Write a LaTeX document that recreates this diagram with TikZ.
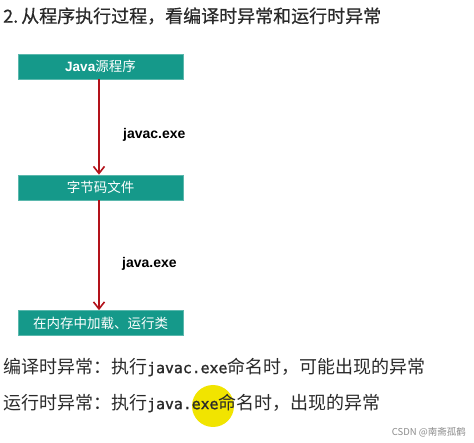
\documentclass[tikz,border=0pt]{standalone}
\usepackage{fontspec}
\setmainfont{Liberation Sans}
\newfontfamily\cjk{Noto Sans CJK SC}
\newfontfamily\cjkb{Noto Sans CJK SC}[FakeBold=0.6]
\newfontfamily\monob{DejaVu Sans Mono}[FakeBold=1.4]
\usetikzlibrary{arrows.meta}
\definecolor{teal1}{HTML}{15998A}
\definecolor{arrowred}{HTML}{B3121A}
\definecolor{txt}{HTML}{2A2A2A}
\definecolor{hl}{HTML}{F1E400}
\tikzset{
  stepbox/.style={fill=teal1, draw=teal1!70!white, line width=0.6pt, minimum width=165pt, minimum height=25pt, inner sep=0pt, text=white, font=\fontsize{13.5}{15}\selectfont\cjk},
  flow/.style={draw=arrowred, line width=2pt, -{Straight Barb[length=7pt,width=11pt,line width=1.6pt]}},
  cmdlabel/.style={font=\fontsize{14}{16}\selectfont\bfseries, text=black, anchor=west, inner sep=0pt},
  linetext/.style={anchor=west, inner sep=0pt, text=txt, font=\fontsize{18}{20}\selectfont\cjk}
}
\begin{document}
\begin{tikzpicture}[x=1pt,y=-1pt]
\useasboundingbox[fill=white] (0,0) rectangle (474,443);
\node[anchor=west, inner sep=0pt, text=txt, font=\fontsize{18}{20}\selectfont\cjkb] (title) at (3,16) {2.\,从程序执行过程，看编译时异常和运行时异常};
\node[stepbox] (src) at (100.5,66.5) {{\bfseries\rmfamily Java}源程序};
\node[stepbox] (byte) at (100.5,187.5) {字节码文件};
\node[stepbox] (run) at (100.5,323) {在内存中加载、运行类};
\draw[flow] (src.south -| 99,0) -- (byte.north -| 99,0);
\draw[flow] (byte.south -| 99,0) -- (run.north -| 99,0);
\node[cmdlabel] (javac) at (123,135) {javac.exe};
\node[cmdlabel] (java) at (122,264) {java.exe};
\fill[hl] (213,406) circle (21);
\node[linetext] (l1) at (3,367) {编译时异常：执行{\monob\fontsize{14.8}{18}\selectfont javac.exe}命名时，可能出现的异常};
\node[linetext] (l2) at (3,403) {运行时异常：执行{\monob\fontsize{14.8}{18}\selectfont java.exe}命名时，出现的异常};
\node[anchor=east, inner sep=0pt, text=black!45, font=\fontsize{9.5}{11}\selectfont\cjk] (wm) at (466,432) {CSDN @南斋孤鹤};
\end{tikzpicture}
\end{document}
